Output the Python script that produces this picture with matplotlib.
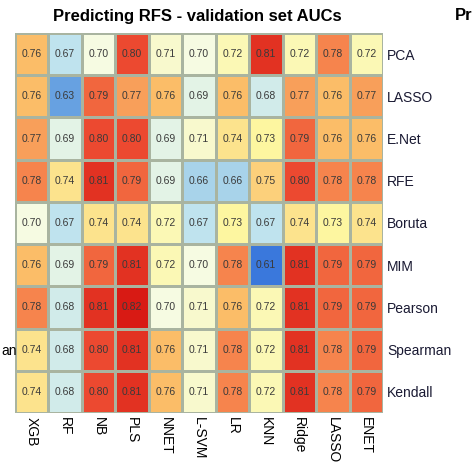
import numpy as np
import matplotlib
matplotlib.use('Agg')
import matplotlib.pyplot as plt
from matplotlib.colors import LinearSegmentedColormap

plt.rcParams['font.family'] = ['Liberation Sans', 'DejaVu Sans']

models = ['XGB', 'RF', 'NB', 'PLS', 'NNET', 'L-SVM', 'LR', 'KNN', 'Ridge', 'LASSO', 'ENET']
selectors = ['PCA', 'LASSO', 'E.Net', 'RFE', 'Boruta', 'MIM', 'Pearson', 'Spearman', 'Kendall']

auc_pca = [0.76, 0.67, 0.70, 0.80, 0.71, 0.70, 0.72, 0.81, 0.72, 0.78, 0.72]
auc_lasso = [0.76, 0.63, 0.79, 0.77, 0.76, 0.69, 0.76, 0.68, 0.77, 0.76, 0.77]
auc_enet = [0.77, 0.69, 0.80, 0.80, 0.69, 0.71, 0.74, 0.73, 0.79, 0.76, 0.76]
auc_rfe = [0.78, 0.74, 0.81, 0.79, 0.69, 0.66, 0.66, 0.75, 0.80, 0.78, 0.78]
auc_boruta = [0.70, 0.67, 0.74, 0.74, 0.72, 0.67, 0.73, 0.67, 0.74, 0.73, 0.74]
auc_mim = [0.76, 0.69, 0.79, 0.81, 0.72, 0.70, 0.78, 0.61, 0.81, 0.79, 0.79]
auc_pearson = [0.78, 0.68, 0.81, 0.82, 0.70, 0.71, 0.76, 0.72, 0.81, 0.79, 0.79]
auc_spearman = [0.74, 0.68, 0.80, 0.81, 0.76, 0.71, 0.78, 0.72, 0.81, 0.78, 0.79]
auc_kendall = [0.74, 0.68, 0.80, 0.81, 0.76, 0.71, 0.78, 0.72, 0.81, 0.78, 0.79]

data = np.array([auc_pca, auc_lasso, auc_enet, auc_rfe, auc_boruta,
                 auc_mim, auc_pearson, auc_spearman, auc_kendall])

# palette
vmin, vmax = 0.61, 0.82
stops = [(0.61, '#3a78dc'), (0.64, '#7fb6e4'), (0.67, '#bfe3ee'), (0.70, '#f6fbe2'),
         (0.73, '#fdf6a0'), (0.76, '#fbbd68'), (0.78, '#f6854e'), (0.80, '#ec4a30'),
         (0.82, '#d81a14')]
cmap = LinearSegmentedColormap.from_list(
    'auc', [((v - vmin) / (vmax - vmin), c) for v, c in stops])

fig = plt.figure(figsize=(4.74, 4.74), dpi=100)
ax = fig.add_axes([15/474, 1 - 413/474, 368/474, 380/474])

ax.pcolormesh(data, cmap=cmap, vmin=vmin, vmax=vmax,
              edgecolor='#a9b4a0', linewidth=0.8)
ax.set_xlim(0, len(models))
ax.set_ylim(len(selectors), 0)

for i in range(len(selectors)):
    for j in range(len(models)):
        ax.text(j + 0.5, i + 0.5, f'{data[i, j]:.2f}', ha='center', va='center',
                fontsize=7.5, color='#3a3a3a')

ax.set_xticks(np.arange(len(models)) + 0.5)
ax.set_xticklabels(models, rotation=270, fontsize=10)
ax.set_yticks(np.arange(len(selectors)) + 0.5)
ax.set_yticklabels(selectors, fontsize=10, color='#1a1a33')
ax.yaxis.tick_right()
ax.tick_params(length=0, pad=3)
for s in ax.spines.values():
    s.set_visible(False)

fig.text(197/474, 1 - 16/474, 'Predicting RFS - validation set AUCs',
         ha='center', va='center', fontsize=12, fontweight='bold')
fig.text(455/474, 1 - 16/474, 'Pr', ha='left', va='center', fontsize=12, fontweight='bold')
fig.text(1/474, 1 - 351/474, 'an', ha='left', va='center', fontsize=10)

fig.savefig('out.png', dpi=100)
